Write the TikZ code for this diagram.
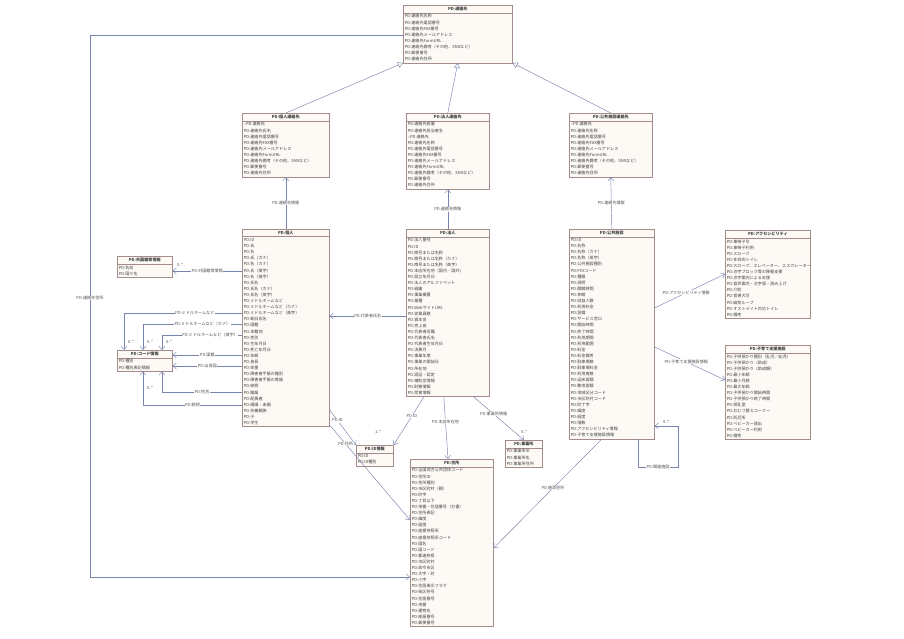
\documentclass[tikz,border=0pt]{standalone}
\usepackage{fontspec}
\setmainfont{Noto Sans CJK JP}
\usetikzlibrary{positioning,shapes.multipart,arrows.meta}
\definecolor{clsfill}{RGB}{253,250,246}
\definecolor{clsline}{RGB}{165,140,140}
\definecolor{lnk}{RGB}{120,130,175}
\definecolor{lbl}{RGB}{80,80,80}
\newcommand{\hdr}[1]{\makebox[\linewidth][c]{\bfseries #1}}

\tikzset{
  cls/.style = {draw=clsline, fill=clsfill, rectangle split, rectangle split parts=2,
    anchor=north west, inner sep=1.6pt, align=left,
    font=\fontsize{4.1}{6.1}\selectfont, text=black!75},
  assoc/.style = {draw=lnk, line width=0.45pt, -{Straight Barb[length=3.5pt,width=6pt]}},
  inher/.style = {draw=lnk, line width=0.45pt, -{Triangle[open,length=5pt,width=6pt]}},
  lab/.style = {font=\fontsize{4.1}{5}\selectfont, text=lbl, fill=white, inner sep=0.5pt},
  mult/.style = {font=\fontsize{4.1}{5}\selectfont, text=lbl, inner sep=0.5pt}
}

\begin{document}
\begin{tikzpicture}[x=1pt, y=-1pt]
    \useasboundingbox (0,0) rectangle (904,638);

    % classes
    \node[cls, text width=106pt] (con) at (403,5) {\hdr{PD:連絡先}\nodepart{second}PD:連絡先名称\\PD:連絡先電話番号\\PD:連絡先FAX番号\\PD:連絡先メールアドレス\\PD:連絡先FormURL\\PD:連絡先備考（その他、SNSなど）\\PD:郵便番号\\PD:連絡先住所};
    \node[cls, text width=84pt] (pcon) at (242,113) {\hdr{PD:個人連絡先}\nodepart{second}::PD:連絡先\\PD:連絡先氏名\\PD:連絡先電話番号\\PD:連絡先FAX番号\\PD:連絡先メールアドレス\\PD:連絡先FormURL\\PD:連絡先備考（その他、SNSなど）\\PD:郵便番号\\PD:連絡先住所};
    \node[cls, text width=80pt] (ccon) at (406,113) {\hdr{PD:法人連絡先}\nodepart{second}PD:連絡先部署\\PD:連絡先担当者名\\::PD:連絡先\\PD:連絡先名称\\PD:連絡先電話番号\\PD:連絡先FAX番号\\PD:連絡先メールアドレス\\PD:連絡先FormURL\\PD:連絡先備考（その他、SNSなど）\\PD:郵便番号\\PD:連絡先住所};
    \node[cls, text width=80pt] (fcon) at (569,113) {\hdr{PD:公共施設連絡先}\nodepart{second}::PD:連絡先\\PD:連絡先名称\\PD:連絡先電話番号\\PD:連絡先FAX番号\\PD:連絡先メールアドレス\\PD:連絡先FormURL\\PD:連絡先備考（その他、SNSなど）\\PD:郵便番号\\PD:連絡先住所};

    \node[cls, text width=84pt] (ppl) at (242,229) {\hdr{PD:個人}\nodepart{second}PD:ID\\PD:氏\\PD:名\\PD:氏（カナ）\\PD:名（カナ）\\PD:氏（英字）\\PD:名（英字）\\PD:氏名\\PD:氏名（カナ）\\PD:氏名（英字）\\PD:ミドルネームなど\\PD:ミドルネームなど（カナ）\\PD:ミドルネームなど（英字）\\PD:新旧氏名\\PD:国籍\\PD:本籍地\\PD:性別\\PD:生年月日\\PD:死亡年月日\\PD:年齢\\PD:身長\\PD:体重\\PD:障害者手帳の種別\\PD:障害者手帳の等級\\PD:続柄\\PD:職業\\PD:配偶者\\PD:婚姻・未婚\\PD:扶養親族\\PD:子\\PD:学生};
    \node[cls, text width=80pt] (corp) at (406,229) {\hdr{PD:法人}\nodepart{second}PD:法人番号\\PD:ID\\PD:商号または名称\\PD:商号または名称（カナ）\\PD:商号または名称（英字）\\PD:本店所在地（国内・国外）\\PD:設立年月日\\PD:法人のアルファベット\\PD:組織\\PD:事業概要\\PD:業種\\PD:WebサイトURL\\PD:従業員数\\PD:資本金\\PD:売上高\\PD:代表者役職\\PD:代表者氏名\\PD:代表者生年月日\\PD:決算月\\PD:事業年度\\PD:事業の開始日\\PD:所在地\\PD:認証・認定\\PD:補助金情報\\PD:財務情報\\PD:受賞情報};
    \node[cls, text width=82pt] (fac) at (569,229) {\hdr{PD:公共施設}\nodepart{second}PD:ID\\PD:名称\\PD:名称（カナ）\\PD:名称（英字）\\PD:公共施設種別\\PD:POIコード\\PD:種類\\PD:説明\\PD:開館時間\\PD:休館\\PD:収容人数\\PD:利用料金\\PD:設備\\PD:サービス窓口\\PD:開始時間\\PD:終了時間\\PD:利用期間\\PD:利用範囲\\PD:料金\\PD:料金備考\\PD:駐車場数\\PD:駐車場料金\\PD:利用者数\\PD:延床面積\\PD:敷地面積\\PD:地域区分コード\\PD:市区町村コード\\PD:町丁字\\PD:緯度\\PD:経度\\PD:階数\\PD:アクセシビリティ情報\\PD:子育て支援施設情報};
    \node[cls, text width=82pt] (acc) at (725,230) {\hdr{PD:アクセシビリティ}\nodepart{second}PD:車椅子可\\PD:車椅子利用\\PD:スロープ\\PD:多目的トイレ\\PD:スロープ、エレベーター、エスカレーター\\PD:点字ブロック等の移動支援\\PD:点字案内による支援\\PD:音声案内・点字版・読み上げ\\PD:介助\\PD:盲導犬可\\PD:磁気ループ\\PD:オストメイト対応トイレ\\PD:備考};
    \node[cls, text width=82pt] (kid) at (725,345) {\hdr{PD:子育て支援施設}\nodepart{second}PD:子供預かり種別（乳児／幼児）\\PD:子供預かり（助成）\\PD:子供預かり（助成額）\\PD:最小年齢\\PD:最小月齢\\PD:最大年齢\\PD:子供預かり開始時間\\PD:子供預かり終了時間\\PD:授乳室\\PD:おむつ替えコーナー\\PD:託児所\\PD:ベビーカー貸出\\PD:ベビーカー利用\\PD:備考};
    \node[cls, text width=80pt] (addr) at (410,459) {\hdr{PD:住所}\nodepart{second}PD:全国地方公共団体コード\\PD:住所ID\\PD:住所種別\\PD:市区町村（郡）\\PD:町字\\PD:丁目以下\\PD:地番・住居番号（方書）\\PD:住所表記\\PD:緯度\\PD:経度\\PD:座標参照系\\PD:座標参照系コード\\PD:国名\\PD:国コード\\PD:都道府県\\PD:市区町村\\PD:政令市区\\PD:大字・町\\PD:小字\\PD:住居表示フラグ\\PD:街区符号\\PD:住居番号\\PD:地番\\PD:建物名\\PD:部屋番号\\PD:郵便番号};
    \node[cls, text width=52pt] (frn) at (117,256) {\hdr{PD:外国籍等情報}\nodepart{second}PD:名前\\PD:国々名};
    \node[cls, text width=52pt] (code) at (117,350) {\hdr{PD:コード情報}\nodepart{second}PD:種別\\PD:種別表記情報};
    \node[cls, text width=34pt] (idi) at (356,445) {\hdr{PD:ID情報}\nodepart{second}PD:ID\\PD:ID種別};
    \node[cls, text width=34pt] (ofc) at (505,440) {\hdr{PD:事業所}\nodepart{second}PD:事業所ID\\PD:事業所名\\PD:事業所住所};

    % inheritance
    \draw[inher] (pcon.north) -- (con.south west);
    \draw[inher] (ccon.north) -- (con.south);
    \draw[inher] (fcon.north) -- (con.south east);

    % contact links
    \draw[assoc] (ppl.north) -- node[lab]{PD:連絡先情報} (pcon.south);
    \draw[assoc] (corp.north) -- node[lab]{PD:連絡先情報} (ccon.south);
    \draw[assoc] (fac.north) -- node[lab]{PD:連絡先情報} (fcon.south);
    \draw[assoc] (con.west |- 0,35) -| (90,577) -- (addr.west |- 0,577);
    \node[lab] at (90,298) {PD:連絡先住所};

    % person links
    \draw[assoc] (ppl.west |- 0,271) -- node[lab]{PD:外国籍等情報} (frn.east |- 0,271);
    \node[mult] at (180,265) {0..*};
    \draw[assoc] (ppl.west |- 0,313) -- node[lab, pos=0.4]{PD:ミドルネームなど} (124,313) -- (code.north west -| 124,0);
    \draw[assoc] (ppl.west |- 0,324) -- node[lab, pos=0.4]{PD:ミドルネームなど（カナ）} (143,324) -- (code.north west -| 143,0);
    \draw[assoc] (ppl.west |- 0,335) -- node[lab, pos=0.4]{PD:ミドルネームなど（英字）} (162,335) -- (code.north west -| 162,0);
    \node[mult] at (131,342) {0..*};
    \node[mult] at (150,342) {0..*};
    \node[mult] at (169,342) {0..*};
    \draw[assoc] (ppl.west |- 0,355) -- node[lab]{PD:国籍} (code.east |- 0,355);
    \draw[assoc] (ppl.west |- 0,366) -- node[lab]{PD:出身国} (code.east |- 0,366);
    \draw[assoc] (ppl.west |- 0,392) -- node[lab]{PD:性別} (162,392) -- (code.south -| 162,0);
    \draw[assoc] (ppl.west |- 0,405) -- node[lab]{PD:続柄} (143,405) -- (code.south -| 143,0);
    \node[mult] at (150,388) {0..*};
    \draw[assoc] (corp.west |- 0,316) -- node[lab]{PD:代表者氏名} (ppl.east |- 0,316);
    \draw[assoc] (ppl.east |- 0,410) -- node[lab, pos=0.3]{PD:ID} (idi.north west);
    \node[mult] at (378,432) {1..*};
    \draw[assoc] (ppl.east |- 0,425) -- node[lab, pos=0.2]{PD:住所} (addr.west |- 0,520);

    % corporation links
    \draw[assoc] (corp.south west) ++(18,0) -- node[lab, pos=0.4]{PD:ID} (idi.north east);
    \draw[assoc] (corp.south) ++(-4,0) -- node[lab, pos=0.4]{PD:本店所在地} (addr.north -| 448,0);
    \draw[assoc] (corp.south east) ++(-16,0) -- node[lab, pos=0.4]{PD:事業所情報} (ofc.north);
    \node[mult] at (524,432) {0..*};

    % facility links
    \draw[assoc] (fac.east |- 0,308) -- node[lab, pos=0.45]{PD:アクセシビリティ情報} (acc.west |- 0,274);
    \draw[assoc] (fac.east |- 0,347) -- node[lab, pos=0.45]{PD:子育て支援施設情報} (kid.west |- 0,380);
    \draw[assoc] (fac.south -| 638,0) -- (638,467) -| node[lab, pos=0.25]{PD:関連施設} (678,426) -- (fac.east |- 0,426);
    \node[mult] at (666,422) {0..*};
    \draw[assoc] (fac.south) ++(-10,0) -- node[lab, pos=0.45]{PD:施設住所} (addr.east |- 0,548);
\end{tikzpicture}
\end{document}
